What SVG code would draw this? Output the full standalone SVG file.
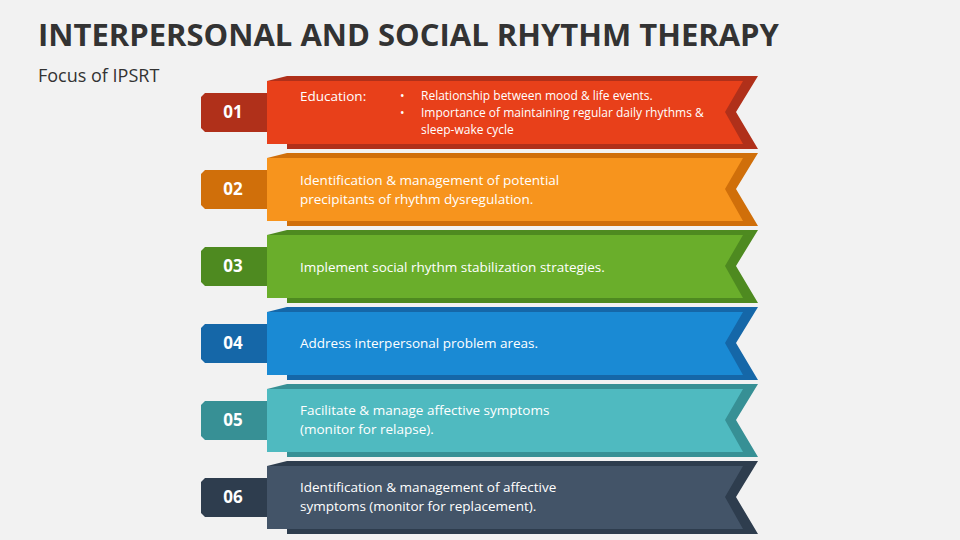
<svg xmlns="http://www.w3.org/2000/svg" width="960" height="540" viewBox="0 0 960 540">
<style>
text{font-family:"Open Sans","Noto Sans","Liberation Sans",sans-serif;fill:#fff}
.t{font-size:13.5px}
.s{font-size:12px}
.n{font-size:17px;font-weight:bold}
</style>
<defs>
<g id="row">
<path class="b" d="M287,0 L758,0 L736,36 L758,73 L287,73 Z"/>
<path class="b" d="M267,5 L287,0 L287,5 Z"/>
<path class="tab" d="M205,17 L267,17 L267,56 L205,56 L201,52 L201,21 Z"/>
<path class="f" d="M267,5 L743,5 L725,36 L743,68 L267,68 Z"/>
</g>
</defs>
<rect width="960" height="540" fill="#f2f2f2"/>
<text x="38" y="46" style="font-size:31px;font-weight:bold;fill:#333">INTERPERSONAL AND SOCIAL RHYTHM THERAPY</text>
<text x="38" y="82" style="font-size:18px;fill:#333">Focus of IPSRT</text>
<g id="connectors"></g>
<g id="n1" transform="translate(0,76)">
<path fill="#B0301A" d="M287,0 L758,0 L736,36 L758,73 L287,73 Z M267,5 L287,0 L287,5 Z"/>
<path fill="#B0301A" d="M205,17 L267,17 L267,56 L205,56 L201,52 L201,21 Z"/>
<path fill="#E8401A" d="M267,5 L743,5 L725,36 L743,68 L267,68 Z"/>
<text class="n" x="233" y="42" text-anchor="middle">01</text>
<text class="t" x="300" y="25">Education:</text>
<text class="s" x="400" y="24">•</text><text class="s" x="421" y="24">Relationship between mood &amp; life events.</text>
<text class="s" x="400" y="41">•</text><text class="s" x="421" y="41">Importance of maintaining regular daily rhythms &amp;</text>
<text class="s" x="421" y="58">sleep-wake cycle</text>
</g>
<g id="n2" transform="translate(0,153)">
<path fill="#D06F0A" d="M287,0 L758,0 L736,36 L758,73 L287,73 Z M267,5 L287,0 L287,5 Z"/>
<path fill="#D06F0A" d="M205,17 L267,17 L267,56 L205,56 L201,52 L201,21 Z"/>
<path fill="#F7941D" d="M267,5 L743,5 L725,36 L743,68 L267,68 Z"/>
<text class="n" x="233" y="42" text-anchor="middle">02</text>
<text class="t" x="300" y="32">Identification &amp; management of potential</text>
<text class="t" x="300" y="51">precipitants of rhythm dysregulation.</text>
</g>
<g id="n3" transform="translate(0,230)">
<path fill="#4E8A20" d="M287,0 L758,0 L736,36 L758,73 L287,73 Z M267,5 L287,0 L287,5 Z"/>
<path fill="#4E8A20" d="M205,17 L267,17 L267,56 L205,56 L201,52 L201,21 Z"/>
<path fill="#6AAE2B" d="M267,5 L743,5 L725,36 L743,68 L267,68 Z"/>
<text class="n" x="233" y="42" text-anchor="middle">03</text>
<text class="t" x="300" y="42">Implement social rhythm stabilization strategies.</text>
</g>
<g id="n4" transform="translate(0,307)">
<path fill="#1567A8" d="M287,0 L758,0 L736,36 L758,73 L287,73 Z M267,5 L287,0 L287,5 Z"/>
<path fill="#1567A8" d="M205,17 L267,17 L267,56 L205,56 L201,52 L201,21 Z"/>
<path fill="#1A8AD4" d="M267,5 L743,5 L725,36 L743,68 L267,68 Z"/>
<text class="n" x="233" y="42" text-anchor="middle">04</text>
<text class="t" x="300" y="41">Address interpersonal problem areas.</text>
</g>
<g id="n5" transform="translate(0,384)">
<path fill="#379095" d="M287,0 L758,0 L736,36 L758,73 L287,73 Z M267,5 L287,0 L287,5 Z"/>
<path fill="#379095" d="M205,17 L267,17 L267,56 L205,56 L201,52 L201,21 Z"/>
<path fill="#4FBAC0" d="M267,5 L743,5 L725,36 L743,68 L267,68 Z"/>
<text class="n" x="233" y="42" text-anchor="middle">05</text>
<text class="t" x="300" y="31">Facilitate &amp; manage affective symptoms</text>
<text class="t" x="300" y="50">(monitor for relapse).</text>
</g>
<g id="n6" transform="translate(0,461)">
<path fill="#2E3D4E" d="M287,0 L758,0 L736,36 L758,73 L287,73 Z M267,5 L287,0 L287,5 Z"/>
<path fill="#2E3D4E" d="M205,17 L267,17 L267,56 L205,56 L201,52 L201,21 Z"/>
<path fill="#435468" d="M267,5 L743,5 L725,36 L743,68 L267,68 Z"/>
<text class="n" x="233" y="42" text-anchor="middle">06</text>
<text class="t" x="300" y="31">Identification &amp; management of affective</text>
<text class="t" x="300" y="50">symptoms (monitor for replacement).</text>
</g>
</svg>
